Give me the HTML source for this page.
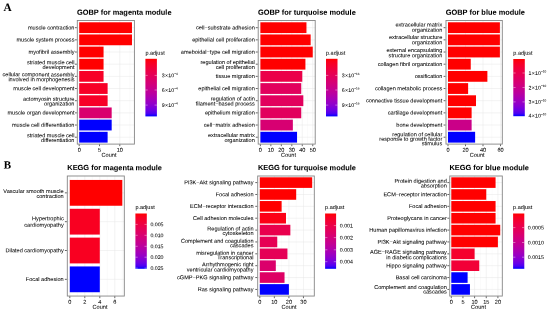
<!DOCTYPE html>
<html lang="en"><head><meta charset="utf-8"><title>GO and KEGG enrichment</title>
<style>html,body{margin:0;padding:0;background:#fff}svg{display:block}text{font-family:"Liberation Sans", sans-serif;fill:#000;stroke:#000;stroke-width:0.04px}.ax{font-size:5.58px;text-anchor:end}.tk{font-size:5.58px;text-anchor:middle}.lg{font-size:5.25px}.lt{font-size:5.5px}.ti{font-size:7.42px;font-weight:bold;fill:#000}.ct{font-size:5.6px;text-anchor:middle}.pl{font-family:"Liberation Serif", serif;font-size:11px;font-weight:bold;fill:#000}</style></head><body>
<svg width="550" height="312" viewBox="0 0 550 312">
<rect width="550" height="312" fill="#fff"/>
<defs><linearGradient id="g" x1="0" y1="0" x2="0" y2="1">
<stop offset="0%" stop-color="#ff0000"/>
<stop offset="5%" stop-color="#fb001a"/>
<stop offset="10%" stop-color="#f6002a"/>
<stop offset="15%" stop-color="#f20037"/>
<stop offset="20%" stop-color="#ed0044"/>
<stop offset="25%" stop-color="#e80050"/>
<stop offset="30%" stop-color="#e3005b"/>
<stop offset="35%" stop-color="#dd0066"/>
<stop offset="40%" stop-color="#d70072"/>
<stop offset="45%" stop-color="#d1007d"/>
<stop offset="50%" stop-color="#ca0088"/>
<stop offset="55%" stop-color="#c20094"/>
<stop offset="60%" stop-color="#ba009f"/>
<stop offset="65%" stop-color="#b000ab"/>
<stop offset="70%" stop-color="#a600b7"/>
<stop offset="75%" stop-color="#9a00c3"/>
<stop offset="80%" stop-color="#8d00ce"/>
<stop offset="85%" stop-color="#7c00da"/>
<stop offset="90%" stop-color="#6800e7"/>
<stop offset="95%" stop-color="#4b00f3"/>
<stop offset="100%" stop-color="#0000ff"/>
</linearGradient></defs>
<text class="pl" x="3.40" y="11.00" transform="rotate(0.05 3.40 11.00)" style="font-size:11.3px">A</text>
<text class="pl" x="3.80" y="168.60" transform="rotate(0.05 3.80 168.60)">B</text>
<g>
<text class="ti" x="77.00" y="14.80" transform="rotate(0.05 77.00 14.80)">GOBP for magenta module</text>
<line x1="89.35" x2="89.35" y1="20.5" y2="144.1" stroke="#f0f0f0" stroke-width="0.3"/><line x1="109.65" x2="109.65" y1="20.5" y2="144.1" stroke="#f0f0f0" stroke-width="0.3"/><line x1="129.95" x2="129.95" y1="20.5" y2="144.1" stroke="#f0f0f0" stroke-width="0.3"/><line x1="79.20" x2="79.20" y1="20.5" y2="144.1" stroke="#e6e6e6" stroke-width="0.5"/><line x1="99.50" x2="99.50" y1="20.5" y2="144.1" stroke="#e6e6e6" stroke-width="0.5"/><line x1="119.80" x2="119.80" y1="20.5" y2="144.1" stroke="#e6e6e6" stroke-width="0.5"/><line x1="77.3" x2="134.4" y1="27.68" y2="27.68" stroke="#e6e6e6" stroke-width="0.5"/><line x1="77.3" x2="134.4" y1="39.85" y2="39.85" stroke="#e6e6e6" stroke-width="0.5"/><line x1="77.3" x2="134.4" y1="52.02" y2="52.02" stroke="#e6e6e6" stroke-width="0.5"/><line x1="77.3" x2="134.4" y1="64.19" y2="64.19" stroke="#e6e6e6" stroke-width="0.5"/><line x1="77.3" x2="134.4" y1="76.36" y2="76.36" stroke="#e6e6e6" stroke-width="0.5"/><line x1="77.3" x2="134.4" y1="88.53" y2="88.53" stroke="#e6e6e6" stroke-width="0.5"/><line x1="77.3" x2="134.4" y1="100.70" y2="100.70" stroke="#e6e6e6" stroke-width="0.5"/><line x1="77.3" x2="134.4" y1="112.87" y2="112.87" stroke="#e6e6e6" stroke-width="0.5"/><line x1="77.3" x2="134.4" y1="125.04" y2="125.04" stroke="#e6e6e6" stroke-width="0.5"/><line x1="77.3" x2="134.4" y1="137.21" y2="137.21" stroke="#e6e6e6" stroke-width="0.5"/>
<rect x="79.20" y="22.28" width="52.78" height="10.80" fill="#ff0000"/>
<line x1="74.9" x2="76.9" y1="27.68" y2="27.68" stroke="#222" stroke-width="0.7"/>
<text class="ax" x="74.45" y="29.43" transform="rotate(0.05 74.45 29.43)">muscle contraction</text>
<rect x="79.20" y="34.45" width="52.78" height="10.80" fill="#ff0000"/>
<line x1="74.9" x2="76.9" y1="39.85" y2="39.85" stroke="#222" stroke-width="0.7"/>
<text class="ax" x="74.45" y="41.60" transform="rotate(0.05 74.45 41.60)">muscle system process</text>
<rect x="79.20" y="46.62" width="24.36" height="10.80" fill="#ff0000"/>
<line x1="74.9" x2="76.9" y1="52.02" y2="52.02" stroke="#222" stroke-width="0.7"/>
<text class="ax" x="74.45" y="53.77" transform="rotate(0.05 74.45 53.77)">myofibril assembly</text>
<rect x="79.20" y="58.79" width="24.36" height="10.80" fill="#ff0000"/>
<line x1="74.9" x2="76.9" y1="64.19" y2="64.19" stroke="#222" stroke-width="0.7"/>
<text class="ax" x="74.45" y="64.24" transform="rotate(0.05 74.45 64.24)">striated muscle cell</text>
<text class="ax" x="74.45" y="69.04" transform="rotate(0.05 74.45 69.04)">development</text>
<rect x="79.20" y="70.96" width="24.36" height="10.80" fill="#f70027"/>
<line x1="74.9" x2="76.9" y1="76.36" y2="76.36" stroke="#222" stroke-width="0.7"/>
<text class="ax" x="74.45" y="76.41" transform="rotate(0.05 74.45 76.41)">cellular component assembly</text>
<text class="ax" x="74.45" y="81.21" transform="rotate(0.05 74.45 81.21)">involved in morphogenesis</text>
<rect x="79.20" y="83.13" width="28.42" height="10.80" fill="#f70027"/>
<line x1="74.9" x2="76.9" y1="88.53" y2="88.53" stroke="#222" stroke-width="0.7"/>
<text class="ax" x="74.45" y="90.28" transform="rotate(0.05 74.45 90.28)">muscle cell development</text>
<rect x="79.20" y="95.30" width="28.42" height="10.80" fill="#f70027"/>
<line x1="74.9" x2="76.9" y1="100.70" y2="100.70" stroke="#222" stroke-width="0.7"/>
<text class="ax" x="74.45" y="100.75" transform="rotate(0.05 74.45 100.75)">actomyosin structure</text>
<text class="ax" x="74.45" y="105.55" transform="rotate(0.05 74.45 105.55)">organization</text>
<rect x="79.20" y="107.47" width="32.48" height="10.80" fill="#d9006d"/>
<line x1="74.9" x2="76.9" y1="112.87" y2="112.87" stroke="#222" stroke-width="0.7"/>
<text class="ax" x="74.45" y="114.62" transform="rotate(0.05 74.45 114.62)">muscle organ development</text>
<rect x="79.20" y="119.64" width="32.48" height="10.80" fill="#0000ff"/>
<line x1="74.9" x2="76.9" y1="125.04" y2="125.04" stroke="#222" stroke-width="0.7"/>
<text class="ax" x="74.45" y="126.79" transform="rotate(0.05 74.45 126.79)">muscle cell differentiation</text>
<rect x="79.20" y="131.81" width="28.42" height="10.80" fill="#0000ff"/>
<line x1="74.9" x2="76.9" y1="137.21" y2="137.21" stroke="#222" stroke-width="0.7"/>
<text class="ax" x="74.45" y="137.26" transform="rotate(0.05 74.45 137.26)">striated muscle cell</text>
<text class="ax" x="74.45" y="142.06" transform="rotate(0.05 74.45 142.06)">differentiation</text>
<rect x="77.30" y="20.50" width="57.10" height="123.60" fill="none" stroke="#858585" stroke-width="0.9"/>
<line x1="79.20" x2="79.20" y1="144.5" y2="146.2" stroke="#222" stroke-width="0.7"/>
<text class="tk" x="79.20" y="151.70" transform="rotate(0.05 79.20 151.70)">0</text>
<line x1="99.50" x2="99.50" y1="144.5" y2="146.2" stroke="#222" stroke-width="0.7"/>
<text class="tk" x="99.50" y="151.70" transform="rotate(0.05 99.50 151.70)">5</text>
<line x1="119.80" x2="119.80" y1="144.5" y2="146.2" stroke="#222" stroke-width="0.7"/>
<text class="tk" x="119.80" y="151.70" transform="rotate(0.05 119.80 151.70)">10</text>
<text class="ct" x="109.00" y="156.70" transform="rotate(0.05 109.00 156.70)">Count</text>
<text class="lt" x="145.40" y="54.80" transform="rotate(0.05 145.40 54.80)">p.adjust</text>
<rect x="145.4" y="58.8" width="11.5" height="57.6" fill="url(#g)"/>
<path d="M145.4 75.4h2.3M156.9 75.4h-2.3" stroke="#fff" stroke-width="0.5" stroke-opacity="0.8" fill="none"/>
<text class="lg" x="161.80" y="77.30" transform="rotate(0.05 161.80 77.30)">3<tspan dx="0.25">×</tspan><tspan dx="0.25">10</tspan><tspan font-size="3.1px" dy="-2.4" dx="0.1">−4</tspan></text>
<path d="M145.4 90.0h2.3M156.9 90.0h-2.3" stroke="#fff" stroke-width="0.5" stroke-opacity="0.8" fill="none"/>
<text class="lg" x="161.80" y="91.90" transform="rotate(0.05 161.80 91.90)">6<tspan dx="0.25">×</tspan><tspan dx="0.25">10</tspan><tspan font-size="3.1px" dy="-2.4" dx="0.1">−4</tspan></text>
<path d="M145.4 105.1h2.3M156.9 105.1h-2.3" stroke="#fff" stroke-width="0.5" stroke-opacity="0.8" fill="none"/>
<text class="lg" x="161.80" y="107.00" transform="rotate(0.05 161.80 107.00)">9<tspan dx="0.25">×</tspan><tspan dx="0.25">10</tspan><tspan font-size="3.1px" dy="-2.4" dx="0.1">−4</tspan></text>
</g>
<g>
<text class="ti" x="258.00" y="14.80" transform="rotate(0.05 258.00 14.80)">GOBP for turquoise module</text>
<line x1="265.63" x2="265.63" y1="20.5" y2="144.1" stroke="#f0f0f0" stroke-width="0.3"/><line x1="276.10" x2="276.10" y1="20.5" y2="144.1" stroke="#f0f0f0" stroke-width="0.3"/><line x1="286.57" x2="286.57" y1="20.5" y2="144.1" stroke="#f0f0f0" stroke-width="0.3"/><line x1="297.04" x2="297.04" y1="20.5" y2="144.1" stroke="#f0f0f0" stroke-width="0.3"/><line x1="307.51" x2="307.51" y1="20.5" y2="144.1" stroke="#f0f0f0" stroke-width="0.3"/><line x1="260.40" x2="260.40" y1="20.5" y2="144.1" stroke="#e6e6e6" stroke-width="0.5"/><line x1="270.87" x2="270.87" y1="20.5" y2="144.1" stroke="#e6e6e6" stroke-width="0.5"/><line x1="281.34" x2="281.34" y1="20.5" y2="144.1" stroke="#e6e6e6" stroke-width="0.5"/><line x1="291.81" x2="291.81" y1="20.5" y2="144.1" stroke="#e6e6e6" stroke-width="0.5"/><line x1="302.28" x2="302.28" y1="20.5" y2="144.1" stroke="#e6e6e6" stroke-width="0.5"/><line x1="312.75" x2="312.75" y1="20.5" y2="144.1" stroke="#e6e6e6" stroke-width="0.5"/><line x1="258.2" x2="315.2" y1="27.68" y2="27.68" stroke="#e6e6e6" stroke-width="0.5"/><line x1="258.2" x2="315.2" y1="39.85" y2="39.85" stroke="#e6e6e6" stroke-width="0.5"/><line x1="258.2" x2="315.2" y1="52.02" y2="52.02" stroke="#e6e6e6" stroke-width="0.5"/><line x1="258.2" x2="315.2" y1="64.19" y2="64.19" stroke="#e6e6e6" stroke-width="0.5"/><line x1="258.2" x2="315.2" y1="76.36" y2="76.36" stroke="#e6e6e6" stroke-width="0.5"/><line x1="258.2" x2="315.2" y1="88.53" y2="88.53" stroke="#e6e6e6" stroke-width="0.5"/><line x1="258.2" x2="315.2" y1="100.70" y2="100.70" stroke="#e6e6e6" stroke-width="0.5"/><line x1="258.2" x2="315.2" y1="112.87" y2="112.87" stroke="#e6e6e6" stroke-width="0.5"/><line x1="258.2" x2="315.2" y1="125.04" y2="125.04" stroke="#e6e6e6" stroke-width="0.5"/><line x1="258.2" x2="315.2" y1="137.21" y2="137.21" stroke="#e6e6e6" stroke-width="0.5"/>
<rect x="260.40" y="22.28" width="46.07" height="10.80" fill="#ff0000"/>
<line x1="255.8" x2="257.8" y1="27.68" y2="27.68" stroke="#222" stroke-width="0.7"/>
<text class="ax" x="254.80" y="29.43" transform="rotate(0.05 254.80 29.43)">cell−substrate adhesion</text>
<rect x="260.40" y="34.45" width="50.26" height="10.80" fill="#ff0000"/>
<line x1="255.8" x2="257.8" y1="39.85" y2="39.85" stroke="#222" stroke-width="0.7"/>
<text class="ax" x="254.80" y="41.60" transform="rotate(0.05 254.80 41.60)">epithelial cell proliferation</text>
<rect x="260.40" y="46.62" width="52.35" height="10.80" fill="#ff0000"/>
<line x1="255.8" x2="257.8" y1="52.02" y2="52.02" stroke="#222" stroke-width="0.7"/>
<text class="ax" x="254.80" y="53.77" transform="rotate(0.05 254.80 53.77)">ameboidal−type cell migration</text>
<rect x="260.40" y="58.79" width="45.02" height="10.80" fill="#ff0000"/>
<line x1="255.8" x2="257.8" y1="64.19" y2="64.19" stroke="#222" stroke-width="0.7"/>
<text class="ax" x="254.80" y="64.09" transform="rotate(0.05 254.80 64.09)">regulation of epithelial</text>
<text class="ax" x="254.80" y="68.99" transform="rotate(0.05 254.80 68.99)">cell proliferation</text>
<rect x="260.40" y="70.96" width="41.88" height="10.80" fill="#eb0049"/>
<line x1="255.8" x2="257.8" y1="76.36" y2="76.36" stroke="#222" stroke-width="0.7"/>
<text class="ax" x="254.80" y="78.11" transform="rotate(0.05 254.80 78.11)">tissue migration</text>
<rect x="260.40" y="83.13" width="40.83" height="10.80" fill="#e2005d"/>
<line x1="255.8" x2="257.8" y1="88.53" y2="88.53" stroke="#222" stroke-width="0.7"/>
<text class="ax" x="254.80" y="90.28" transform="rotate(0.05 254.80 90.28)">epithelial cell migration</text>
<rect x="260.40" y="95.30" width="42.93" height="10.80" fill="#e2005d"/>
<line x1="255.8" x2="257.8" y1="100.70" y2="100.70" stroke="#222" stroke-width="0.7"/>
<text class="ax" x="254.80" y="100.60" transform="rotate(0.05 254.80 100.60)">regulation of actin</text>
<text class="ax" x="254.80" y="105.50" transform="rotate(0.05 254.80 105.50)">filament−based process</text>
<rect x="260.40" y="107.47" width="40.83" height="10.80" fill="#e2005d"/>
<line x1="255.8" x2="257.8" y1="112.87" y2="112.87" stroke="#222" stroke-width="0.7"/>
<text class="ax" x="254.80" y="114.62" transform="rotate(0.05 254.80 114.62)">epithelium migration</text>
<rect x="260.40" y="119.64" width="32.46" height="10.80" fill="#d70072"/>
<line x1="255.8" x2="257.8" y1="125.04" y2="125.04" stroke="#222" stroke-width="0.7"/>
<text class="ax" x="254.80" y="126.79" transform="rotate(0.05 254.80 126.79)">cell−matrix adhesion</text>
<rect x="260.40" y="131.81" width="36.64" height="10.80" fill="#0000ff"/>
<line x1="255.8" x2="257.8" y1="137.21" y2="137.21" stroke="#222" stroke-width="0.7"/>
<text class="ax" x="254.80" y="137.11" transform="rotate(0.05 254.80 137.11)">extracellular matrix</text>
<text class="ax" x="254.80" y="142.01" transform="rotate(0.05 254.80 142.01)">organization</text>
<rect x="258.20" y="20.50" width="57.00" height="123.60" fill="none" stroke="#858585" stroke-width="0.9"/>
<line x1="260.40" x2="260.40" y1="144.5" y2="146.2" stroke="#222" stroke-width="0.7"/>
<text class="tk" x="260.40" y="151.70" transform="rotate(0.05 260.40 151.70)">0</text>
<line x1="270.87" x2="270.87" y1="144.5" y2="146.2" stroke="#222" stroke-width="0.7"/>
<text class="tk" x="270.87" y="151.70" transform="rotate(0.05 270.87 151.70)">10</text>
<line x1="281.34" x2="281.34" y1="144.5" y2="146.2" stroke="#222" stroke-width="0.7"/>
<text class="tk" x="281.34" y="151.70" transform="rotate(0.05 281.34 151.70)">20</text>
<line x1="291.81" x2="291.81" y1="144.5" y2="146.2" stroke="#222" stroke-width="0.7"/>
<text class="tk" x="291.81" y="151.70" transform="rotate(0.05 291.81 151.70)">30</text>
<line x1="302.28" x2="302.28" y1="144.5" y2="146.2" stroke="#222" stroke-width="0.7"/>
<text class="tk" x="302.28" y="151.70" transform="rotate(0.05 302.28 151.70)">40</text>
<line x1="312.75" x2="312.75" y1="144.5" y2="146.2" stroke="#222" stroke-width="0.7"/>
<text class="tk" x="312.75" y="151.70" transform="rotate(0.05 312.75 151.70)">50</text>
<text class="ct" x="288.50" y="156.70" transform="rotate(0.05 288.50 156.70)">Count</text>
<text class="lt" x="326.00" y="54.80" transform="rotate(0.05 326.00 54.80)">p.adjust</text>
<rect x="326.0" y="58.8" width="11.5" height="57.6" fill="url(#g)"/>
<path d="M326.0 75.4h2.3M337.5 75.4h-2.3" stroke="#fff" stroke-width="0.5" stroke-opacity="0.8" fill="none"/>
<text class="lg" x="341.80" y="77.30" transform="rotate(0.05 341.80 77.30)">3<tspan dx="0.25">×</tspan><tspan dx="0.25">10</tspan><tspan font-size="3.1px" dy="-2.4" dx="0.1">−16</tspan></text>
<path d="M326.0 90.0h2.3M337.5 90.0h-2.3" stroke="#fff" stroke-width="0.5" stroke-opacity="0.8" fill="none"/>
<text class="lg" x="341.80" y="91.90" transform="rotate(0.05 341.80 91.90)">6<tspan dx="0.25">×</tspan><tspan dx="0.25">10</tspan><tspan font-size="3.1px" dy="-2.4" dx="0.1">−16</tspan></text>
<path d="M326.0 105.1h2.3M337.5 105.1h-2.3" stroke="#fff" stroke-width="0.5" stroke-opacity="0.8" fill="none"/>
<text class="lg" x="341.80" y="107.00" transform="rotate(0.05 341.80 107.00)">9<tspan dx="0.25">×</tspan><tspan dx="0.25">10</tspan><tspan font-size="3.1px" dy="-2.4" dx="0.1">−16</tspan></text>
</g>
<g>
<text class="ti" x="445.70" y="14.80" transform="rotate(0.05 445.70 14.80)">GOBP for blue module</text>
<line x1="456.75" x2="456.75" y1="20.5" y2="144.1" stroke="#f0f0f0" stroke-width="0.3"/><line x1="474.25" x2="474.25" y1="20.5" y2="144.1" stroke="#f0f0f0" stroke-width="0.3"/><line x1="491.75" x2="491.75" y1="20.5" y2="144.1" stroke="#f0f0f0" stroke-width="0.3"/><line x1="448.00" x2="448.00" y1="20.5" y2="144.1" stroke="#e6e6e6" stroke-width="0.5"/><line x1="465.50" x2="465.50" y1="20.5" y2="144.1" stroke="#e6e6e6" stroke-width="0.5"/><line x1="483.00" x2="483.00" y1="20.5" y2="144.1" stroke="#e6e6e6" stroke-width="0.5"/><line x1="500.50" x2="500.50" y1="20.5" y2="144.1" stroke="#e6e6e6" stroke-width="0.5"/><line x1="446.0" x2="502.3" y1="27.68" y2="27.68" stroke="#e6e6e6" stroke-width="0.5"/><line x1="446.0" x2="502.3" y1="39.85" y2="39.85" stroke="#e6e6e6" stroke-width="0.5"/><line x1="446.0" x2="502.3" y1="52.02" y2="52.02" stroke="#e6e6e6" stroke-width="0.5"/><line x1="446.0" x2="502.3" y1="64.19" y2="64.19" stroke="#e6e6e6" stroke-width="0.5"/><line x1="446.0" x2="502.3" y1="76.36" y2="76.36" stroke="#e6e6e6" stroke-width="0.5"/><line x1="446.0" x2="502.3" y1="88.53" y2="88.53" stroke="#e6e6e6" stroke-width="0.5"/><line x1="446.0" x2="502.3" y1="100.70" y2="100.70" stroke="#e6e6e6" stroke-width="0.5"/><line x1="446.0" x2="502.3" y1="112.87" y2="112.87" stroke="#e6e6e6" stroke-width="0.5"/><line x1="446.0" x2="502.3" y1="125.04" y2="125.04" stroke="#e6e6e6" stroke-width="0.5"/><line x1="446.0" x2="502.3" y1="137.21" y2="137.21" stroke="#e6e6e6" stroke-width="0.5"/>
<rect x="448.00" y="22.28" width="51.89" height="10.80" fill="#ff0000"/>
<line x1="443.6" x2="445.6" y1="27.68" y2="27.68" stroke="#222" stroke-width="0.7"/>
<text class="ax" x="442.25" y="26.63" transform="rotate(0.05 442.25 26.63)">extracellular matrix</text>
<text class="ax" x="442.25" y="31.83" transform="rotate(0.05 442.25 31.83)">organization</text>
<rect x="448.00" y="34.45" width="51.89" height="10.80" fill="#ff0000"/>
<line x1="443.6" x2="445.6" y1="39.85" y2="39.85" stroke="#222" stroke-width="0.7"/>
<text class="ax" x="442.25" y="39.10" transform="rotate(0.05 442.25 39.10)">extracellular structure</text>
<text class="ax" x="442.25" y="44.30" transform="rotate(0.05 442.25 44.30)">organization</text>
<rect x="448.00" y="46.62" width="51.89" height="10.80" fill="#ff0000"/>
<line x1="443.6" x2="445.6" y1="52.02" y2="52.02" stroke="#222" stroke-width="0.7"/>
<text class="ax" x="442.25" y="51.97" transform="rotate(0.05 442.25 51.97)">external encapsulating</text>
<text class="ax" x="442.25" y="57.37" transform="rotate(0.05 442.25 57.37)">structure organization</text>
<rect x="448.00" y="58.79" width="22.75" height="10.80" fill="#ff0000"/>
<line x1="443.6" x2="445.6" y1="64.19" y2="64.19" stroke="#222" stroke-width="0.7"/>
<text class="ax" x="442.25" y="65.94" transform="rotate(0.05 442.25 65.94)">collagen fibril organization</text>
<rect x="448.00" y="70.96" width="39.38" height="10.80" fill="#ff0000"/>
<line x1="443.6" x2="445.6" y1="76.36" y2="76.36" stroke="#222" stroke-width="0.7"/>
<text class="ax" x="442.25" y="78.11" transform="rotate(0.05 442.25 78.11)">ossification</text>
<rect x="448.00" y="83.13" width="20.12" height="10.80" fill="#ff0000"/>
<line x1="443.6" x2="445.6" y1="88.53" y2="88.53" stroke="#222" stroke-width="0.7"/>
<text class="ax" x="442.25" y="90.28" transform="rotate(0.05 442.25 90.28)">collagen metabolic process</text>
<rect x="448.00" y="95.30" width="28.00" height="10.80" fill="#ff0000"/>
<line x1="443.6" x2="445.6" y1="100.70" y2="100.70" stroke="#222" stroke-width="0.7"/>
<text class="ax" x="442.25" y="102.45" transform="rotate(0.05 442.25 102.45)">connective tissue development</text>
<rect x="448.00" y="107.47" width="23.62" height="10.80" fill="#ff0000"/>
<line x1="443.6" x2="445.6" y1="112.87" y2="112.87" stroke="#222" stroke-width="0.7"/>
<text class="ax" x="442.25" y="114.62" transform="rotate(0.05 442.25 114.62)">cartilage development</text>
<rect x="448.00" y="119.64" width="23.62" height="10.80" fill="#ca0088"/>
<line x1="443.6" x2="445.6" y1="125.04" y2="125.04" stroke="#222" stroke-width="0.7"/>
<text class="ax" x="442.25" y="126.79" transform="rotate(0.05 442.25 126.79)">bone development</text>
<rect x="448.00" y="131.81" width="27.12" height="10.80" fill="#0000ff"/>
<line x1="443.6" x2="445.6" y1="137.21" y2="137.21" stroke="#222" stroke-width="0.7"/>
<text class="ax" x="442.25" y="136.21" transform="rotate(0.05 442.25 136.21)">regulation of cellular</text>
<text class="ax" x="442.25" y="140.76" transform="rotate(0.05 442.25 140.76)">response to growth factor</text>
<text class="ax" x="442.25" y="145.31" transform="rotate(0.05 442.25 145.31)">stimulus</text>
<rect x="446.00" y="20.50" width="56.30" height="123.60" fill="none" stroke="#858585" stroke-width="0.9"/>
<line x1="448.00" x2="448.00" y1="144.5" y2="146.2" stroke="#222" stroke-width="0.7"/>
<text class="tk" x="448.00" y="151.70" transform="rotate(0.05 448.00 151.70)">0</text>
<line x1="465.50" x2="465.50" y1="144.5" y2="146.2" stroke="#222" stroke-width="0.7"/>
<text class="tk" x="465.50" y="151.70" transform="rotate(0.05 465.50 151.70)">20</text>
<line x1="483.00" x2="483.00" y1="144.5" y2="146.2" stroke="#222" stroke-width="0.7"/>
<text class="tk" x="483.00" y="151.70" transform="rotate(0.05 483.00 151.70)">40</text>
<line x1="500.50" x2="500.50" y1="144.5" y2="146.2" stroke="#222" stroke-width="0.7"/>
<text class="tk" x="500.50" y="151.70" transform="rotate(0.05 500.50 151.70)">60</text>
<text class="ct" x="477.20" y="156.70" transform="rotate(0.05 477.20 156.70)">Count</text>
<text class="lt" x="513.30" y="54.80" transform="rotate(0.05 513.30 54.80)">p.adjust</text>
<rect x="513.3" y="59.0" width="11.5" height="57.2" fill="url(#g)"/>
<path d="M513.3 73.0h2.3M524.8 73.0h-2.3" stroke="#fff" stroke-width="0.5" stroke-opacity="0.8" fill="none"/>
<text class="lg" x="528.50" y="74.90" transform="rotate(0.05 528.50 74.90)">1<tspan dx="0.25">×</tspan><tspan dx="0.25">10</tspan><tspan font-size="3.1px" dy="-2.4" dx="0.1">−10</tspan></text>
<path d="M513.3 87.5h2.3M524.8 87.5h-2.3" stroke="#fff" stroke-width="0.5" stroke-opacity="0.8" fill="none"/>
<text class="lg" x="528.50" y="89.40" transform="rotate(0.05 528.50 89.40)">2<tspan dx="0.25">×</tspan><tspan dx="0.25">10</tspan><tspan font-size="3.1px" dy="-2.4" dx="0.1">−10</tspan></text>
<path d="M513.3 101.9h2.3M524.8 101.9h-2.3" stroke="#fff" stroke-width="0.5" stroke-opacity="0.8" fill="none"/>
<text class="lg" x="528.50" y="103.80" transform="rotate(0.05 528.50 103.80)">3<tspan dx="0.25">×</tspan><tspan dx="0.25">10</tspan><tspan font-size="3.1px" dy="-2.4" dx="0.1">−10</tspan></text>
<text class="lg" x="528.50" y="117.60" transform="rotate(0.05 528.50 117.60)">4<tspan dx="0.25">×</tspan><tspan dx="0.25">10</tspan><tspan font-size="3.1px" dy="-2.4" dx="0.1">−10</tspan></text>
</g>
<g>
<text class="ti" x="67.30" y="170.10" transform="rotate(0.05 67.30 170.10)">KEGG for magenta module</text>
<line x1="77.30" x2="77.30" y1="176.0" y2="296.1" stroke="#f0f0f0" stroke-width="0.3"/><line x1="92.30" x2="92.30" y1="176.0" y2="296.1" stroke="#f0f0f0" stroke-width="0.3"/><line x1="107.30" x2="107.30" y1="176.0" y2="296.1" stroke="#f0f0f0" stroke-width="0.3"/><line x1="122.30" x2="122.30" y1="176.0" y2="296.1" stroke="#f0f0f0" stroke-width="0.3"/><line x1="69.80" x2="69.80" y1="176.0" y2="296.1" stroke="#e6e6e6" stroke-width="0.5"/><line x1="84.80" x2="84.80" y1="176.0" y2="296.1" stroke="#e6e6e6" stroke-width="0.5"/><line x1="99.80" x2="99.80" y1="176.0" y2="296.1" stroke="#e6e6e6" stroke-width="0.5"/><line x1="114.80" x2="114.80" y1="176.0" y2="296.1" stroke="#e6e6e6" stroke-width="0.5"/><line x1="67.3" x2="124.3" y1="192.85" y2="192.85" stroke="#e6e6e6" stroke-width="0.5"/><line x1="67.3" x2="124.3" y1="221.68" y2="221.68" stroke="#e6e6e6" stroke-width="0.5"/><line x1="67.3" x2="124.3" y1="250.51" y2="250.51" stroke="#e6e6e6" stroke-width="0.5"/><line x1="67.3" x2="124.3" y1="279.34" y2="279.34" stroke="#e6e6e6" stroke-width="0.5"/>
<rect x="69.80" y="179.95" width="52.50" height="25.80" fill="#ff0000"/>
<line x1="64.9" x2="66.9" y1="192.85" y2="192.85" stroke="#222" stroke-width="0.7"/>
<text class="ax" x="63.70" y="193.10" transform="rotate(0.05 63.70 193.10)">Vascular smooth muscle</text>
<text class="ax" x="63.70" y="198.10" transform="rotate(0.05 63.70 198.10)">contraction</text>
<rect x="69.80" y="208.78" width="30.00" height="25.80" fill="#f90021"/>
<line x1="64.9" x2="66.9" y1="221.68" y2="221.68" stroke="#222" stroke-width="0.7"/>
<text class="ax" x="63.70" y="220.37" transform="rotate(0.05 63.70 220.37)">Hypertrophic</text>
<text class="ax" x="63.70" y="226.77" transform="rotate(0.05 63.70 226.77)">cardiomyopathy</text>
<rect x="69.80" y="237.61" width="30.00" height="25.80" fill="#f90021"/>
<line x1="64.9" x2="66.9" y1="250.51" y2="250.51" stroke="#222" stroke-width="0.7"/>
<text class="ax" x="63.70" y="252.26" transform="rotate(0.05 63.70 252.26)">Dilated cardiomyopathy</text>
<rect x="69.80" y="266.44" width="30.00" height="25.80" fill="#0000ff"/>
<line x1="64.9" x2="66.9" y1="279.34" y2="279.34" stroke="#222" stroke-width="0.7"/>
<text class="ax" x="63.70" y="281.09" transform="rotate(0.05 63.70 281.09)">Focal adhesion</text>
<rect x="67.30" y="176.00" width="57.00" height="120.05" fill="none" stroke="#858585" stroke-width="0.9"/>
<line x1="69.80" x2="69.80" y1="296.4" y2="298.2" stroke="#222" stroke-width="0.7"/>
<text class="tk" x="69.80" y="303.65" transform="rotate(0.05 69.80 303.65)">0</text>
<line x1="84.80" x2="84.80" y1="296.4" y2="298.2" stroke="#222" stroke-width="0.7"/>
<text class="tk" x="84.80" y="303.65" transform="rotate(0.05 84.80 303.65)">2</text>
<line x1="99.80" x2="99.80" y1="296.4" y2="298.2" stroke="#222" stroke-width="0.7"/>
<text class="tk" x="99.80" y="303.65" transform="rotate(0.05 99.80 303.65)">4</text>
<line x1="114.80" x2="114.80" y1="296.4" y2="298.2" stroke="#222" stroke-width="0.7"/>
<text class="tk" x="114.80" y="303.65" transform="rotate(0.05 114.80 303.65)">6</text>
<text class="ct" x="100.00" y="308.65" transform="rotate(0.05 100.00 308.65)">Count</text>
<text class="lt" x="135.40" y="209.10" transform="rotate(0.05 135.40 209.10)">p.adjust</text>
<rect x="135.4" y="213.5" width="11.4" height="55.3" fill="url(#g)"/>
<path d="M135.4 224.4h2.3M146.8 224.4h-2.3" stroke="#fff" stroke-width="0.5" stroke-opacity="0.8" fill="none"/>
<text class="lg" x="150.40" y="226.30" transform="rotate(0.05 150.40 226.30)">0.005</text>
<path d="M135.4 235.3h2.3M146.8 235.3h-2.3" stroke="#fff" stroke-width="0.5" stroke-opacity="0.8" fill="none"/>
<text class="lg" x="150.40" y="237.20" transform="rotate(0.05 150.40 237.20)">0.010</text>
<path d="M135.4 246.3h2.3M146.8 246.3h-2.3" stroke="#fff" stroke-width="0.5" stroke-opacity="0.8" fill="none"/>
<text class="lg" x="150.40" y="248.20" transform="rotate(0.05 150.40 248.20)">0.015</text>
<path d="M135.4 257.2h2.3M146.8 257.2h-2.3" stroke="#fff" stroke-width="0.5" stroke-opacity="0.8" fill="none"/>
<text class="lg" x="150.40" y="259.10" transform="rotate(0.05 150.40 259.10)">0.020</text>
<path d="M135.4 268.1h2.3M146.8 268.1h-2.3" stroke="#fff" stroke-width="0.5" stroke-opacity="0.8" fill="none"/>
<text class="lg" x="150.40" y="270.00" transform="rotate(0.05 150.40 270.00)">0.025</text>
</g>
<g>
<text class="ti" x="258.00" y="170.10" transform="rotate(0.05 258.00 170.10)">KEGG for turquoise module</text>
<line x1="267.07" x2="267.07" y1="176.0" y2="296.1" stroke="#f0f0f0" stroke-width="0.3"/><line x1="281.62" x2="281.62" y1="176.0" y2="296.1" stroke="#f0f0f0" stroke-width="0.3"/><line x1="296.18" x2="296.18" y1="176.0" y2="296.1" stroke="#f0f0f0" stroke-width="0.3"/><line x1="310.73" x2="310.73" y1="176.0" y2="296.1" stroke="#f0f0f0" stroke-width="0.3"/><line x1="259.80" x2="259.80" y1="176.0" y2="296.1" stroke="#e6e6e6" stroke-width="0.5"/><line x1="274.35" x2="274.35" y1="176.0" y2="296.1" stroke="#e6e6e6" stroke-width="0.5"/><line x1="288.90" x2="288.90" y1="176.0" y2="296.1" stroke="#e6e6e6" stroke-width="0.5"/><line x1="303.45" x2="303.45" y1="176.0" y2="296.1" stroke="#e6e6e6" stroke-width="0.5"/><line x1="257.7" x2="314.3" y1="182.60" y2="182.60" stroke="#e6e6e6" stroke-width="0.5"/><line x1="257.7" x2="314.3" y1="194.47" y2="194.47" stroke="#e6e6e6" stroke-width="0.5"/><line x1="257.7" x2="314.3" y1="206.34" y2="206.34" stroke="#e6e6e6" stroke-width="0.5"/><line x1="257.7" x2="314.3" y1="218.21" y2="218.21" stroke="#e6e6e6" stroke-width="0.5"/><line x1="257.7" x2="314.3" y1="230.08" y2="230.08" stroke="#e6e6e6" stroke-width="0.5"/><line x1="257.7" x2="314.3" y1="241.95" y2="241.95" stroke="#e6e6e6" stroke-width="0.5"/><line x1="257.7" x2="314.3" y1="253.82" y2="253.82" stroke="#e6e6e6" stroke-width="0.5"/><line x1="257.7" x2="314.3" y1="265.69" y2="265.69" stroke="#e6e6e6" stroke-width="0.5"/><line x1="257.7" x2="314.3" y1="277.56" y2="277.56" stroke="#e6e6e6" stroke-width="0.5"/><line x1="257.7" x2="314.3" y1="289.43" y2="289.43" stroke="#e6e6e6" stroke-width="0.5"/>
<rect x="259.80" y="177.30" width="52.38" height="10.60" fill="#ff0000"/>
<line x1="255.3" x2="257.3" y1="182.60" y2="182.60" stroke="#222" stroke-width="0.7"/>
<text class="ax" x="253.50" y="184.35" transform="rotate(0.05 253.50 184.35)">PI3K−Akt signaling pathway</text>
<rect x="259.80" y="189.17" width="36.38" height="10.60" fill="#ff0000"/>
<line x1="255.3" x2="257.3" y1="194.47" y2="194.47" stroke="#222" stroke-width="0.7"/>
<text class="ax" x="253.50" y="196.22" transform="rotate(0.05 253.50 196.22)">Focal adhesion</text>
<rect x="259.80" y="201.04" width="21.83" height="10.60" fill="#ff0000"/>
<line x1="255.3" x2="257.3" y1="206.34" y2="206.34" stroke="#222" stroke-width="0.7"/>
<text class="ax" x="253.50" y="208.09" transform="rotate(0.05 253.50 208.09)">ECM−receptor interaction</text>
<rect x="259.80" y="212.91" width="26.19" height="10.60" fill="#fc0016"/>
<line x1="255.3" x2="257.3" y1="218.21" y2="218.21" stroke="#222" stroke-width="0.7"/>
<text class="ax" x="253.50" y="219.96" transform="rotate(0.05 253.50 219.96)">Cell adhesion molecules</text>
<rect x="259.80" y="224.78" width="30.55" height="10.60" fill="#e9004d"/>
<line x1="255.3" x2="257.3" y1="230.08" y2="230.08" stroke="#222" stroke-width="0.7"/>
<text class="ax" x="253.50" y="230.58" transform="rotate(0.05 253.50 230.58)">Regulation of actin</text>
<text class="ax" x="253.50" y="235.08" transform="rotate(0.05 253.50 235.08)">cytoskeleton</text>
<rect x="259.80" y="236.65" width="17.46" height="10.60" fill="#e60054"/>
<line x1="255.3" x2="257.3" y1="241.95" y2="241.95" stroke="#222" stroke-width="0.7"/>
<text class="ax" x="253.50" y="242.75" transform="rotate(0.05 253.50 242.75)">Complement and coagulation</text>
<text class="ax" x="253.50" y="247.25" transform="rotate(0.05 253.50 247.25)">cascades</text>
<rect x="259.80" y="248.52" width="27.65" height="10.60" fill="#e50056"/>
<line x1="255.3" x2="257.3" y1="253.82" y2="253.82" stroke="#222" stroke-width="0.7"/>
<text class="ax" x="253.50" y="254.72" transform="rotate(0.05 253.50 254.72)">misregulation in cancer</text>
<text class="ax" x="253.50" y="259.32" transform="rotate(0.05 253.50 259.32)">Transcriptional</text>
<rect x="259.80" y="260.39" width="16.01" height="10.60" fill="#db006b"/>
<line x1="255.3" x2="257.3" y1="265.69" y2="265.69" stroke="#222" stroke-width="0.7"/>
<text class="ax" x="253.50" y="266.29" transform="rotate(0.05 253.50 266.29)">Arrhythmogenic right</text>
<text class="ax" x="253.50" y="271.59" transform="rotate(0.05 253.50 271.59)">ventricular cardiomyopathy</text>
<rect x="259.80" y="272.26" width="24.73" height="10.60" fill="#de0064"/>
<line x1="255.3" x2="257.3" y1="277.56" y2="277.56" stroke="#222" stroke-width="0.7"/>
<text class="ax" x="253.50" y="279.31" transform="rotate(0.05 253.50 279.31)">cGMP−PKG signaling pathway</text>
<rect x="259.80" y="284.13" width="29.10" height="10.60" fill="#0000ff"/>
<line x1="255.3" x2="257.3" y1="289.43" y2="289.43" stroke="#222" stroke-width="0.7"/>
<text class="ax" x="253.50" y="291.18" transform="rotate(0.05 253.50 291.18)">Ras signaling pathway</text>
<rect x="257.70" y="176.00" width="56.60" height="120.05" fill="none" stroke="#858585" stroke-width="0.9"/>
<line x1="259.80" x2="259.80" y1="296.4" y2="298.2" stroke="#222" stroke-width="0.7"/>
<text class="tk" x="259.80" y="303.65" transform="rotate(0.05 259.80 303.65)">0</text>
<line x1="274.35" x2="274.35" y1="296.4" y2="298.2" stroke="#222" stroke-width="0.7"/>
<text class="tk" x="274.35" y="303.65" transform="rotate(0.05 274.35 303.65)">10</text>
<line x1="288.90" x2="288.90" y1="296.4" y2="298.2" stroke="#222" stroke-width="0.7"/>
<text class="tk" x="288.90" y="303.65" transform="rotate(0.05 288.90 303.65)">20</text>
<line x1="303.45" x2="303.45" y1="296.4" y2="298.2" stroke="#222" stroke-width="0.7"/>
<text class="tk" x="303.45" y="303.65" transform="rotate(0.05 303.45 303.65)">30</text>
<text class="ct" x="289.00" y="308.65" transform="rotate(0.05 289.00 308.65)">Count</text>
<text class="lt" x="325.10" y="209.10" transform="rotate(0.05 325.10 209.10)">p.adjust</text>
<rect x="325.1" y="213.5" width="11.0" height="55.3" fill="url(#g)"/>
<path d="M325.1 225.6h2.3M336.1 225.6h-2.3" stroke="#fff" stroke-width="0.5" stroke-opacity="0.8" fill="none"/>
<text class="lg" x="339.80" y="227.50" transform="rotate(0.05 339.80 227.50)">0.001</text>
<path d="M325.1 237.6h2.3M336.1 237.6h-2.3" stroke="#fff" stroke-width="0.5" stroke-opacity="0.8" fill="none"/>
<text class="lg" x="339.80" y="239.50" transform="rotate(0.05 339.80 239.50)">0.002</text>
<path d="M325.1 249.8h2.3M336.1 249.8h-2.3" stroke="#fff" stroke-width="0.5" stroke-opacity="0.8" fill="none"/>
<text class="lg" x="339.80" y="251.70" transform="rotate(0.05 339.80 251.70)">0.003</text>
<path d="M325.1 261.7h2.3M336.1 261.7h-2.3" stroke="#fff" stroke-width="0.5" stroke-opacity="0.8" fill="none"/>
<text class="lg" x="339.80" y="263.60" transform="rotate(0.05 339.80 263.60)">0.004</text>
</g>
<g>
<text class="ti" x="449.50" y="170.10" transform="rotate(0.05 449.50 170.10)">KEGG for blue module</text>
<line x1="457.12" x2="457.12" y1="176.0" y2="296.1" stroke="#f0f0f0" stroke-width="0.3"/><line x1="468.78" x2="468.78" y1="176.0" y2="296.1" stroke="#f0f0f0" stroke-width="0.3"/><line x1="480.43" x2="480.43" y1="176.0" y2="296.1" stroke="#f0f0f0" stroke-width="0.3"/><line x1="492.07" x2="492.07" y1="176.0" y2="296.1" stroke="#f0f0f0" stroke-width="0.3"/><line x1="451.30" x2="451.30" y1="176.0" y2="296.1" stroke="#e6e6e6" stroke-width="0.5"/><line x1="462.95" x2="462.95" y1="176.0" y2="296.1" stroke="#e6e6e6" stroke-width="0.5"/><line x1="474.60" x2="474.60" y1="176.0" y2="296.1" stroke="#e6e6e6" stroke-width="0.5"/><line x1="486.25" x2="486.25" y1="176.0" y2="296.1" stroke="#e6e6e6" stroke-width="0.5"/><line x1="497.90" x2="497.90" y1="176.0" y2="296.1" stroke="#e6e6e6" stroke-width="0.5"/><line x1="449.8" x2="502.3" y1="182.60" y2="182.60" stroke="#e6e6e6" stroke-width="0.5"/><line x1="449.8" x2="502.3" y1="194.47" y2="194.47" stroke="#e6e6e6" stroke-width="0.5"/><line x1="449.8" x2="502.3" y1="206.34" y2="206.34" stroke="#e6e6e6" stroke-width="0.5"/><line x1="449.8" x2="502.3" y1="218.21" y2="218.21" stroke="#e6e6e6" stroke-width="0.5"/><line x1="449.8" x2="502.3" y1="230.08" y2="230.08" stroke="#e6e6e6" stroke-width="0.5"/><line x1="449.8" x2="502.3" y1="241.95" y2="241.95" stroke="#e6e6e6" stroke-width="0.5"/><line x1="449.8" x2="502.3" y1="253.82" y2="253.82" stroke="#e6e6e6" stroke-width="0.5"/><line x1="449.8" x2="502.3" y1="265.69" y2="265.69" stroke="#e6e6e6" stroke-width="0.5"/><line x1="449.8" x2="502.3" y1="277.56" y2="277.56" stroke="#e6e6e6" stroke-width="0.5"/><line x1="449.8" x2="502.3" y1="289.43" y2="289.43" stroke="#e6e6e6" stroke-width="0.5"/>
<rect x="451.30" y="177.30" width="44.27" height="10.60" fill="#ff0000"/>
<line x1="447.4" x2="449.4" y1="182.60" y2="182.60" stroke="#222" stroke-width="0.7"/>
<text class="ax" x="446.80" y="182.70" transform="rotate(0.05 446.80 182.70)">Protein digestion and</text>
<text class="ax" x="446.80" y="187.50" transform="rotate(0.05 446.80 187.50)">absorption</text>
<rect x="451.30" y="189.17" width="34.95" height="10.60" fill="#ff0000"/>
<line x1="447.4" x2="449.4" y1="194.47" y2="194.47" stroke="#222" stroke-width="0.7"/>
<text class="ax" x="446.80" y="196.22" transform="rotate(0.05 446.80 196.22)">ECM−receptor interaction</text>
<rect x="451.30" y="201.04" width="44.27" height="10.60" fill="#ff0000"/>
<line x1="447.4" x2="449.4" y1="206.34" y2="206.34" stroke="#222" stroke-width="0.7"/>
<text class="ax" x="446.80" y="208.09" transform="rotate(0.05 446.80 208.09)">Focal adhesion</text>
<rect x="451.30" y="212.91" width="44.27" height="10.60" fill="#ff0000"/>
<line x1="447.4" x2="449.4" y1="218.21" y2="218.21" stroke="#222" stroke-width="0.7"/>
<text class="ax" x="446.80" y="219.96" transform="rotate(0.05 446.80 219.96)">Proteoglycans in cancer</text>
<rect x="451.30" y="224.78" width="48.93" height="10.60" fill="#ff0000"/>
<line x1="447.4" x2="449.4" y1="230.08" y2="230.08" stroke="#222" stroke-width="0.7"/>
<text class="ax" x="446.80" y="231.83" transform="rotate(0.05 446.80 231.83)">Human papillomavirus infection</text>
<rect x="451.30" y="236.65" width="46.60" height="10.60" fill="#ff0000"/>
<line x1="447.4" x2="449.4" y1="241.95" y2="241.95" stroke="#222" stroke-width="0.7"/>
<text class="ax" x="446.80" y="243.70" transform="rotate(0.05 446.80 243.70)">PI3K−Akt signaling pathway</text>
<rect x="451.30" y="248.52" width="23.30" height="10.60" fill="#f5002d"/>
<line x1="447.4" x2="449.4" y1="253.82" y2="253.82" stroke="#222" stroke-width="0.7"/>
<text class="ax" x="446.80" y="253.92" transform="rotate(0.05 446.80 253.92)">AGE−RAGE signaling pathway</text>
<text class="ax" x="446.80" y="259.32" transform="rotate(0.05 446.80 259.32)">in diabetic complications</text>
<rect x="451.30" y="260.39" width="27.96" height="10.60" fill="#f20037"/>
<line x1="447.4" x2="449.4" y1="265.69" y2="265.69" stroke="#222" stroke-width="0.7"/>
<text class="ax" x="446.80" y="267.44" transform="rotate(0.05 446.80 267.44)">Hippo signaling pathway</text>
<rect x="451.30" y="272.26" width="16.31" height="10.60" fill="#0000ff"/>
<line x1="447.4" x2="449.4" y1="277.56" y2="277.56" stroke="#222" stroke-width="0.7"/>
<text class="ax" x="446.80" y="279.31" transform="rotate(0.05 446.80 279.31)">Basal cell carcinoma</text>
<rect x="451.30" y="284.13" width="18.64" height="10.60" fill="#0000ff"/>
<line x1="447.4" x2="449.4" y1="289.43" y2="289.43" stroke="#222" stroke-width="0.7"/>
<text class="ax" x="446.80" y="289.13" transform="rotate(0.05 446.80 289.13)">Complement and coagulation</text>
<text class="ax" x="446.80" y="293.63" transform="rotate(0.05 446.80 293.63)">cascades</text>
<rect x="449.75" y="176.00" width="52.55" height="120.05" fill="none" stroke="#858585" stroke-width="0.9"/>
<line x1="451.30" x2="451.30" y1="296.4" y2="298.2" stroke="#222" stroke-width="0.7"/>
<text class="tk" x="451.30" y="303.65" transform="rotate(0.05 451.30 303.65)">0</text>
<line x1="462.95" x2="462.95" y1="296.4" y2="298.2" stroke="#222" stroke-width="0.7"/>
<text class="tk" x="462.95" y="303.65" transform="rotate(0.05 462.95 303.65)">5</text>
<line x1="474.60" x2="474.60" y1="296.4" y2="298.2" stroke="#222" stroke-width="0.7"/>
<text class="tk" x="474.60" y="303.65" transform="rotate(0.05 474.60 303.65)">10</text>
<line x1="486.25" x2="486.25" y1="296.4" y2="298.2" stroke="#222" stroke-width="0.7"/>
<text class="tk" x="486.25" y="303.65" transform="rotate(0.05 486.25 303.65)">15</text>
<line x1="497.90" x2="497.90" y1="296.4" y2="298.2" stroke="#222" stroke-width="0.7"/>
<text class="tk" x="497.90" y="303.65" transform="rotate(0.05 497.90 303.65)">20</text>
<text class="ct" x="478.50" y="308.65" transform="rotate(0.05 478.50 308.65)">Count</text>
<text class="lt" x="513.10" y="209.10" transform="rotate(0.05 513.10 209.10)">p.adjust</text>
<rect x="513.1" y="213.5" width="11.2" height="55.3" fill="url(#g)"/>
<path d="M513.1 227.6h2.3M524.3 227.6h-2.3" stroke="#fff" stroke-width="0.5" stroke-opacity="0.8" fill="none"/>
<text class="lg" x="527.80" y="229.50" transform="rotate(0.05 527.80 229.50)">0.0005</text>
<path d="M513.1 242.5h2.3M524.3 242.5h-2.3" stroke="#fff" stroke-width="0.5" stroke-opacity="0.8" fill="none"/>
<text class="lg" x="527.80" y="244.40" transform="rotate(0.05 527.80 244.40)">0.0010</text>
<path d="M513.1 257.2h2.3M524.3 257.2h-2.3" stroke="#fff" stroke-width="0.5" stroke-opacity="0.8" fill="none"/>
<text class="lg" x="527.80" y="259.10" transform="rotate(0.05 527.80 259.10)">0.0015</text>
</g>
</svg></body></html>
